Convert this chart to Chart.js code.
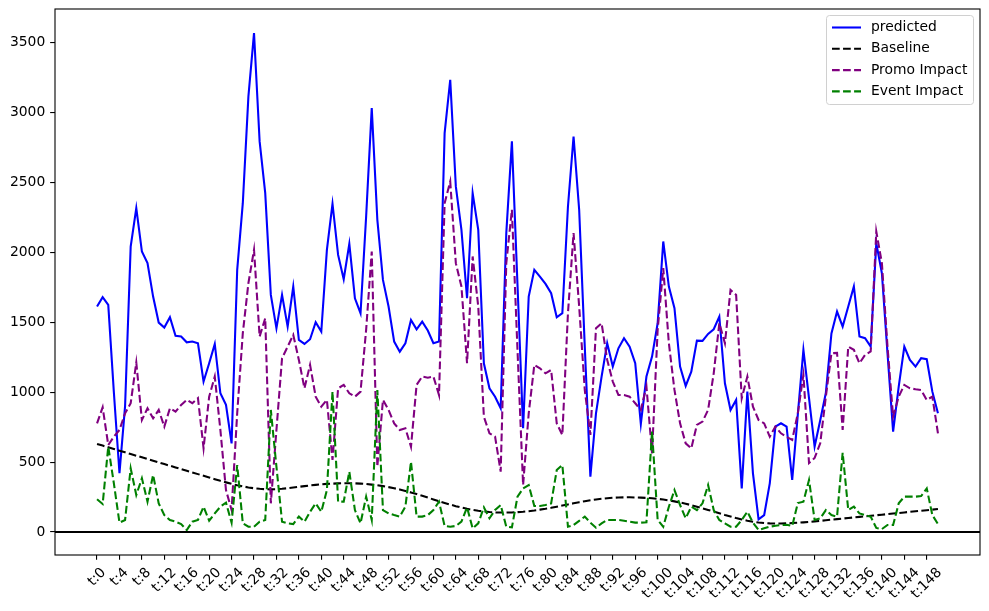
<!DOCTYPE html>
<html lang="en">
<head>
<meta charset="UTF-8">
<title>Predicted vs components</title>
<script src="https://cdn.jsdelivr.net/npm/chart.js"></script>
<style>
  html, body { margin: 0; padding: 0; background: #fff; }
  #wrap { width: 989px; height: 611px; }
</style>
</head>
<body>
<div id="wrap"><canvas id="chart" width="989" height="611"></canvas></div>
<script>
// time steps t:0 .. t:150
const steps = Array.from({ length: 151 }, (_, i) => i);
const tickSteps = [0, 4, 8, 12, 16, 20, 24, 28, 32, 36, 40, 44, 48, 52, 56, 60, 64, 68, 72, 76,
  80, 84, 88, 92, 96, 100, 104, 108, 112, 116, 120, 124, 128, 132, 136, 140, 144, 148];
const tickLabels = tickSteps.map(t => 't:' + t);
const yTicks = [0, 500, 1000, 1500, 2000, 2500, 3000, 3500];

const predicted = [
  1613, 1680, 1625, 1000, 420, 900, 2042, 2316, 2006, 1923,
  1684, 1498, 1462, 1536, 1403, 1398, 1357, 1362, 1350, 1076,
  1207, 1345, 992, 909, 634, 1875, 2352, 3116, 3569, 2794,
  2424, 1696, 1457, 1696, 1469, 1756, 1374, 1345, 1379, 1501,
  1434, 2018, 2348, 1982, 1808, 2061, 1672, 1565, 2257, 3032,
  2233, 1803, 1613, 1362, 1290, 1350, 1517, 1450, 1505, 1441,
  1350, 1362, 2853, 3235, 2472, 2161, 1672, 2424, 2161, 1207,
  1028, 968, 885, 2138, 2794, 1768, 742, 1684, 1875, 1827,
  1775, 1708, 1536, 1565, 2328, 2829, 2305, 1326, 396, 849,
  1112, 1350, 1183, 1314, 1386, 1326, 1207, 773, 1112, 1255,
  1493, 2078, 1756, 1601, 1183, 1045, 1147, 1369, 1367, 1417,
  1450, 1541, 1064, 873, 945, 312, 1004, 420, 90, 121,
  348, 754, 778, 754, 372, 840, 1303, 957, 611, 800,
  994, 1420, 1577, 1469, 1613, 1756, 1398, 1386, 1326, 2066,
  1851, 1279, 718, 1040, 1326, 1231, 1183, 1243, 1236, 1004,
  849
];
const baseline = [
  630, 618, 606, 594, 582, 570, 558, 546, 534, 522,
  510, 498, 486, 474, 462, 450, 438, 426, 414, 402,
  390, 378, 366, 355, 344, 334, 326, 319, 313, 309,
  306, 305, 306, 309, 313, 318, 323, 328, 333, 337,
  341, 344, 346, 348, 349, 349, 348, 346, 343, 339,
  334, 328, 321, 313, 304, 294, 283, 271, 259, 246,
  233, 220, 208, 196, 185, 175, 166, 158, 152, 147,
  143, 140, 139, 139, 140, 142, 145, 149, 154, 160,
  166, 173, 181, 189, 197, 205, 213, 220, 227, 233,
  238, 242, 245, 247, 248, 248, 247, 246, 244, 241,
  237, 232, 226, 219, 211, 202, 192, 181, 170, 158,
  146, 134, 122, 111, 100, 90, 81, 74, 68, 64,
  62, 61, 61, 62, 64, 66, 69, 72, 76, 80,
  84, 88, 92, 96, 100, 104, 108, 112, 116, 120,
  124, 128, 132, 136, 140, 144, 148, 152, 156, 160,
  164
];
const promoImpact = [
  777, 892, 622, 682, 730, 849, 921, 1212, 801, 885,
  813, 873, 754, 885, 861, 909, 945, 921, 957, 599,
  968, 1112, 730, 300, 157, 849, 1422, 1780, 2018, 1398,
  1529, 205, 730, 1243, 1326, 1410, 1231, 1028, 1195, 968,
  897, 945, 515, 1028, 1052, 992, 968, 1004, 1446, 2006,
  467, 945, 873, 777, 730, 742, 610, 1052, 1112, 1104,
  1112, 980, 2352, 2507, 1923, 1756, 1207, 1971, 1613, 825,
  706, 682, 432, 1923, 2305, 1300, 336, 849, 1195, 1171,
  1135, 1159, 777, 694, 1565, 2138, 1613, 1016, 694, 1457,
  1493, 1231, 1076, 980, 980, 968, 921, 873, 1040, 563,
  1446, 1887, 1350, 1016, 777, 634, 598, 766, 790, 873,
  1135, 1493, 1350, 1732, 1696, 957, 1112, 897, 801, 777,
  682, 754, 706, 680, 658, 849, 1124, 494, 530, 634,
  968, 1279, 1281, 730, 1326, 1303, 1207, 1267, 1291, 2149,
  1923, 1326, 825, 968, 1052, 1028, 1021, 1016, 945, 968,
  706
];
const eventImpact = [
  234, 200, 611, 348, 67, 86, 455, 265, 384, 217,
  408, 205, 121, 86, 74, 57, 14, 74, 86, 181,
  81, 133, 181, 210, 67, 479, 62, 38, 38, 74,
  86, 873, 467, 74, 62, 57, 110, 74, 145, 205,
  145, 300, 1004, 217, 217, 431, 157, 62, 253, 86,
  1016, 157, 133, 121, 110, 181, 503, 110, 110, 121,
  157, 217, 43, 38, 43, 74, 176, 26, 62, 176,
  98, 157, 193, 38, 33, 253, 312, 336, 186, 186,
  193, 205, 443, 479, 38, 50, 80, 110, 67, 31,
  62, 86, 86, 86, 81, 74, 67, 67, 70, 720,
  86, 38, 181, 300, 193, 98, 181, 157, 205, 336,
  157, 86, 62, 38, 38, 86, 145, 67, 14, 26,
  38, 45, 50, 52, 43, 207, 217, 372, 86, 98,
  157, 121, 110, 567, 157, 181, 133, 121, 110, 29,
  21, 50, 50, 205, 253, 253, 253, 257, 312, 121,
  57
];

const PX = 100 / 72;          // points -> pixels at 100 dpi
const LW = 1.5 * PX;
const DASH = [3.7 * LW, 1.6 * LW];
const TICK = 3.5 * PX;
const FS = 10 * PX;
const FONT = FS + 'px "DejaVu Sans", sans-serif';

const series = [
  { label: 'predicted', data: predicted, color: '#0000ff', dash: [], order: 4 },
  { label: 'Baseline', data: baseline, color: '#000000', dash: DASH, order: 3 },
  { label: 'Promo Impact', data: promoImpact, color: '#800080', dash: DASH, order: 2 },
  { label: 'Event Impact', data: eventImpact, color: '#008000', dash: DASH, order: 1 }
];

// frame, zero line, rotated x labels, legend box
const decorPlugin = {
  id: 'decor',
  afterDatasetsDraw(chart) {
    const { ctx, chartArea: a, scales } = chart;
    const y0 = scales.y.getPixelForValue(0);
    ctx.save();
    ctx.strokeStyle = '#000';
    ctx.lineWidth = LW;
    ctx.beginPath();
    ctx.moveTo(a.left, y0);
    ctx.lineTo(a.right, y0);
    ctx.stroke();
    ctx.restore();
  },
  afterDraw(chart) {
    const { ctx, chartArea: a, scales } = chart;
    ctx.save();
    ctx.strokeStyle = '#000';
    ctx.lineWidth = 1.1;
    ctx.strokeRect(a.left, a.top, a.right - a.left, a.bottom - a.top);

    ctx.font = FONT;
    ctx.fillStyle = '#000';
    ctx.textAlign = 'center';
    ctx.textBaseline = 'middle';
    tickSteps.forEach((v, i) => {
      const px = scales.x.getPixelForValue(v);
      const w = ctx.measureText(tickLabels[i]).width;
      const box = (w + FS * 1.17) * Math.SQRT1_2;
      ctx.save();
      ctx.translate(px, a.bottom + 2 * TICK + box / 2);
      ctx.rotate(-Math.PI / 4);
      ctx.fillText(tickLabels[i], 0, 0);
      ctx.restore();
    });

    // legend
    const bx = 826.5, by = 15.5, bw = 147, bh = 89;
    ctx.beginPath();
    ctx.roundRect(bx, by, bw, bh, 3);
    ctx.fillStyle = 'rgba(255,255,255,0.8)';
    ctx.fill();
    ctx.strokeStyle = '#d0d0d0';
    ctx.lineWidth = 1;
    ctx.stroke();
    ctx.textAlign = 'left';
    series.forEach((s, i) => {
      const ry = 27.5 + i * 21.3;
      ctx.beginPath();
      ctx.strokeStyle = s.color;
      ctx.lineWidth = LW;
      ctx.setLineDash(s.dash);
      ctx.moveTo(832, ry);
      ctx.lineTo(861, ry);
      ctx.stroke();
      ctx.setLineDash([]);
      ctx.fillStyle = '#000';
      ctx.fillText(s.label, 871, ry);
    });
    ctx.restore();
  }
};

new Chart(document.getElementById('chart').getContext('2d'), {
  type: 'line',
  data: {
    labels: steps,
    datasets: series.map(s => ({
      label: s.label,
      data: s.data,
      borderColor: s.color,
      backgroundColor: s.color,
      borderWidth: LW,
      borderDash: s.dash,
      pointRadius: 0,
      tension: 0,
      fill: false,
      order: s.order
    }))
  },
  options: {
    responsive: false,
    devicePixelRatio: 1,
    animation: false,
    layout: { padding: { top: 9, right: 9, left: 0, bottom: 0 } },
    plugins: {
      legend: { display: false },
      tooltip: { enabled: false }
    },
    scales: {
      x: {
        type: 'linear',
        min: -7.5,
        max: 157.5,
        afterBuildTicks: s => { s.ticks = tickSteps.map(v => ({ value: v })); },
        afterFit: s => { s.height = 56; s.paddingLeft = 0; s.paddingRight = 0; },
        ticks: { autoSkip: false, maxRotation: 0, minRotation: 0, color: 'rgba(0,0,0,0)' },
        grid: { drawOnChartArea: false, tickLength: TICK, color: '#000', lineWidth: 1.1 },
        border: { display: false }
      },
      y: {
        min: -164.5,
        max: 3741,
        afterBuildTicks: s => { s.ticks = yTicks.map(v => ({ value: v })); },
        afterFit: s => { s.width = 55; s.paddingTop = 0; s.paddingBottom = 0; },
        ticks: {
          color: '#000',
          padding: TICK,
          font: { family: '"DejaVu Sans", sans-serif', size: FS },
          callback: v => String(v)
        },
        grid: { drawOnChartArea: false, tickLength: TICK, color: '#000', lineWidth: 1.1 },
        border: { display: false }
      }
    }
  },
  plugins: [decorPlugin]
});
</script>
</body>
</html>
